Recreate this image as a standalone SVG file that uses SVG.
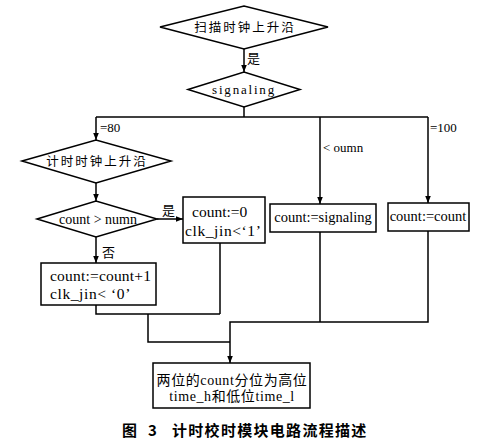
<svg xmlns="http://www.w3.org/2000/svg" width="486" height="440" viewBox="0 0 486 440">
<style>
  .shape { fill: #fff; stroke: #000; stroke-width: 1.5; }
  .line { fill: none; stroke: #000; stroke-width: 1.5; }
  .t { font-family: "Liberation Serif", "Noto Sans CJK SC", serif; font-size: 14.5px; fill: #000; }
  .cjk { font-family: "Noto Sans CJK SC", sans-serif; font-size: 12.5px; fill: #000; letter-spacing: 2px; }
  .lbl { font-family: "Liberation Serif", "Noto Sans CJK SC", serif; font-size: 13px; fill: #000; }
  .mid { text-anchor: middle; }
  .cap { font-family: "Noto Sans CJK SC", sans-serif; font-size: 15px; font-weight: bold; fill: #000; }
</style>
<defs>
  <marker id="arrow" viewBox="0 0 10 10" refX="10" refY="5" markerWidth="7" markerHeight="7" orient="auto" markerUnits="userSpaceOnUse">
    <path d="M0,1 L10,5 L0,9 Z" fill="#000"/>
  </marker>
</defs>
<rect width="486" height="440" fill="#fff"/>

<g id="connectors">
  <path class="line" d="M244,49 V72" marker-end="url(#arrow)"/>
  <path class="line" d="M244,107 V117"/>
  <path class="line" d="M96,117 H428"/>
  <path class="line" d="M96,117 V140" marker-end="url(#arrow)"/>
  <path class="line" d="M320,117 V204" marker-end="url(#arrow)"/>
  <path class="line" d="M428,117 V203" marker-end="url(#arrow)"/>
  <path class="line" d="M96,183 V201" marker-end="url(#arrow)"/>
  <path class="line" d="M157,219 H183" marker-end="url(#arrow)"/>
  <path class="line" d="M96,237 V263" marker-end="url(#arrow)"/>
  <path class="line" d="M96,305 V314 H220"/>
  <path class="line" d="M220,243 V314"/>
  <path class="line" d="M148,314 V342 H230"/>
  <path class="line" d="M320,232 V322"/>
  <path class="line" d="M428,231 V322 H230 V363" marker-end="url(#arrow)"/>
  <text class="lbl" x="247" y="63">是</text>
  <text class="lbl" x="100" y="132">=80</text>
  <text class="lbl" x="323" y="152">&lt; oumn</text>
  <text class="lbl" x="430" y="132">=100</text>
  <text class="lbl" x="162" y="215">是</text>
  <text class="lbl" x="102" y="257">否</text>
</g>

<g id="n1">
  <polygon class="shape" points="160,27 244,6 328,27 244,49"/>
  <text class="cjk mid" x="245" y="32">扫描时钟上升沿</text>
</g>
<g id="n2">
  <polygon class="shape" points="188,89.5 244,72 300,89.5 244,107"/>
  <text class="t mid" x="244" y="94" style="font-size:13px;letter-spacing:1.8px">signaling</text>
</g>
<g id="n3">
  <polygon class="shape" points="22,161 96,140 171,161 96,183"/>
  <text class="cjk mid" x="97" y="166">计时时钟上升沿</text>
</g>
<g id="n4">
  <polygon class="shape" points="37,219 96,201 157,219 96,237"/>
  <text class="t mid" x="98" y="224" style="font-size:14px">count &gt; numn</text>
</g>
<g id="n5">
  <rect class="shape" x="183" y="197" width="82" height="46"/>
  <text class="t" x="192" y="217" style="font-size:15.5px">count:=0</text>
  <text class="t" x="185" y="236" style="font-size:15.5px;letter-spacing:0.6px">clk_jin&lt;‘1’</text>
</g>
<g id="n6">
  <rect class="shape" x="41" y="263" width="115" height="42"/>
  <text class="t" x="50" y="281" style="font-size:15.5px;letter-spacing:0.2px">count:=count+1</text>
  <text class="t" x="50" y="299" style="font-size:15.5px;letter-spacing:0.6px">clk_jin&lt; ‘0’</text>
</g>
<g id="n7">
  <rect class="shape" x="270" y="204" width="106" height="28"/>
  <text class="t mid" x="323" y="222" style="font-size:14.5px">count:=signaling</text>
</g>
<g id="n8">
  <rect class="shape" x="388" y="203" width="81" height="28"/>
  <text class="t mid" x="428" y="221" style="font-size:14.5px">count:=count</text>
</g>
<g id="n9">
  <rect class="shape" x="153" y="363" width="157" height="45"/>
  <text class="t mid" x="232" y="385" style="font-size:14px;letter-spacing:0.6px">两位的count分位为高位</text>
  <text class="t mid" x="232" y="401" style="font-size:14px;letter-spacing:0.6px">time_h和低位time_l</text>
</g>

<g id="caption">
  <text class="cap" x="122" y="436">图</text>
  <text class="cap" x="148" y="436">3</text>
  <text class="cap" x="172" y="436" style="letter-spacing:1.3px">计时校时模块电路流程描述</text>
</g>
</svg>
